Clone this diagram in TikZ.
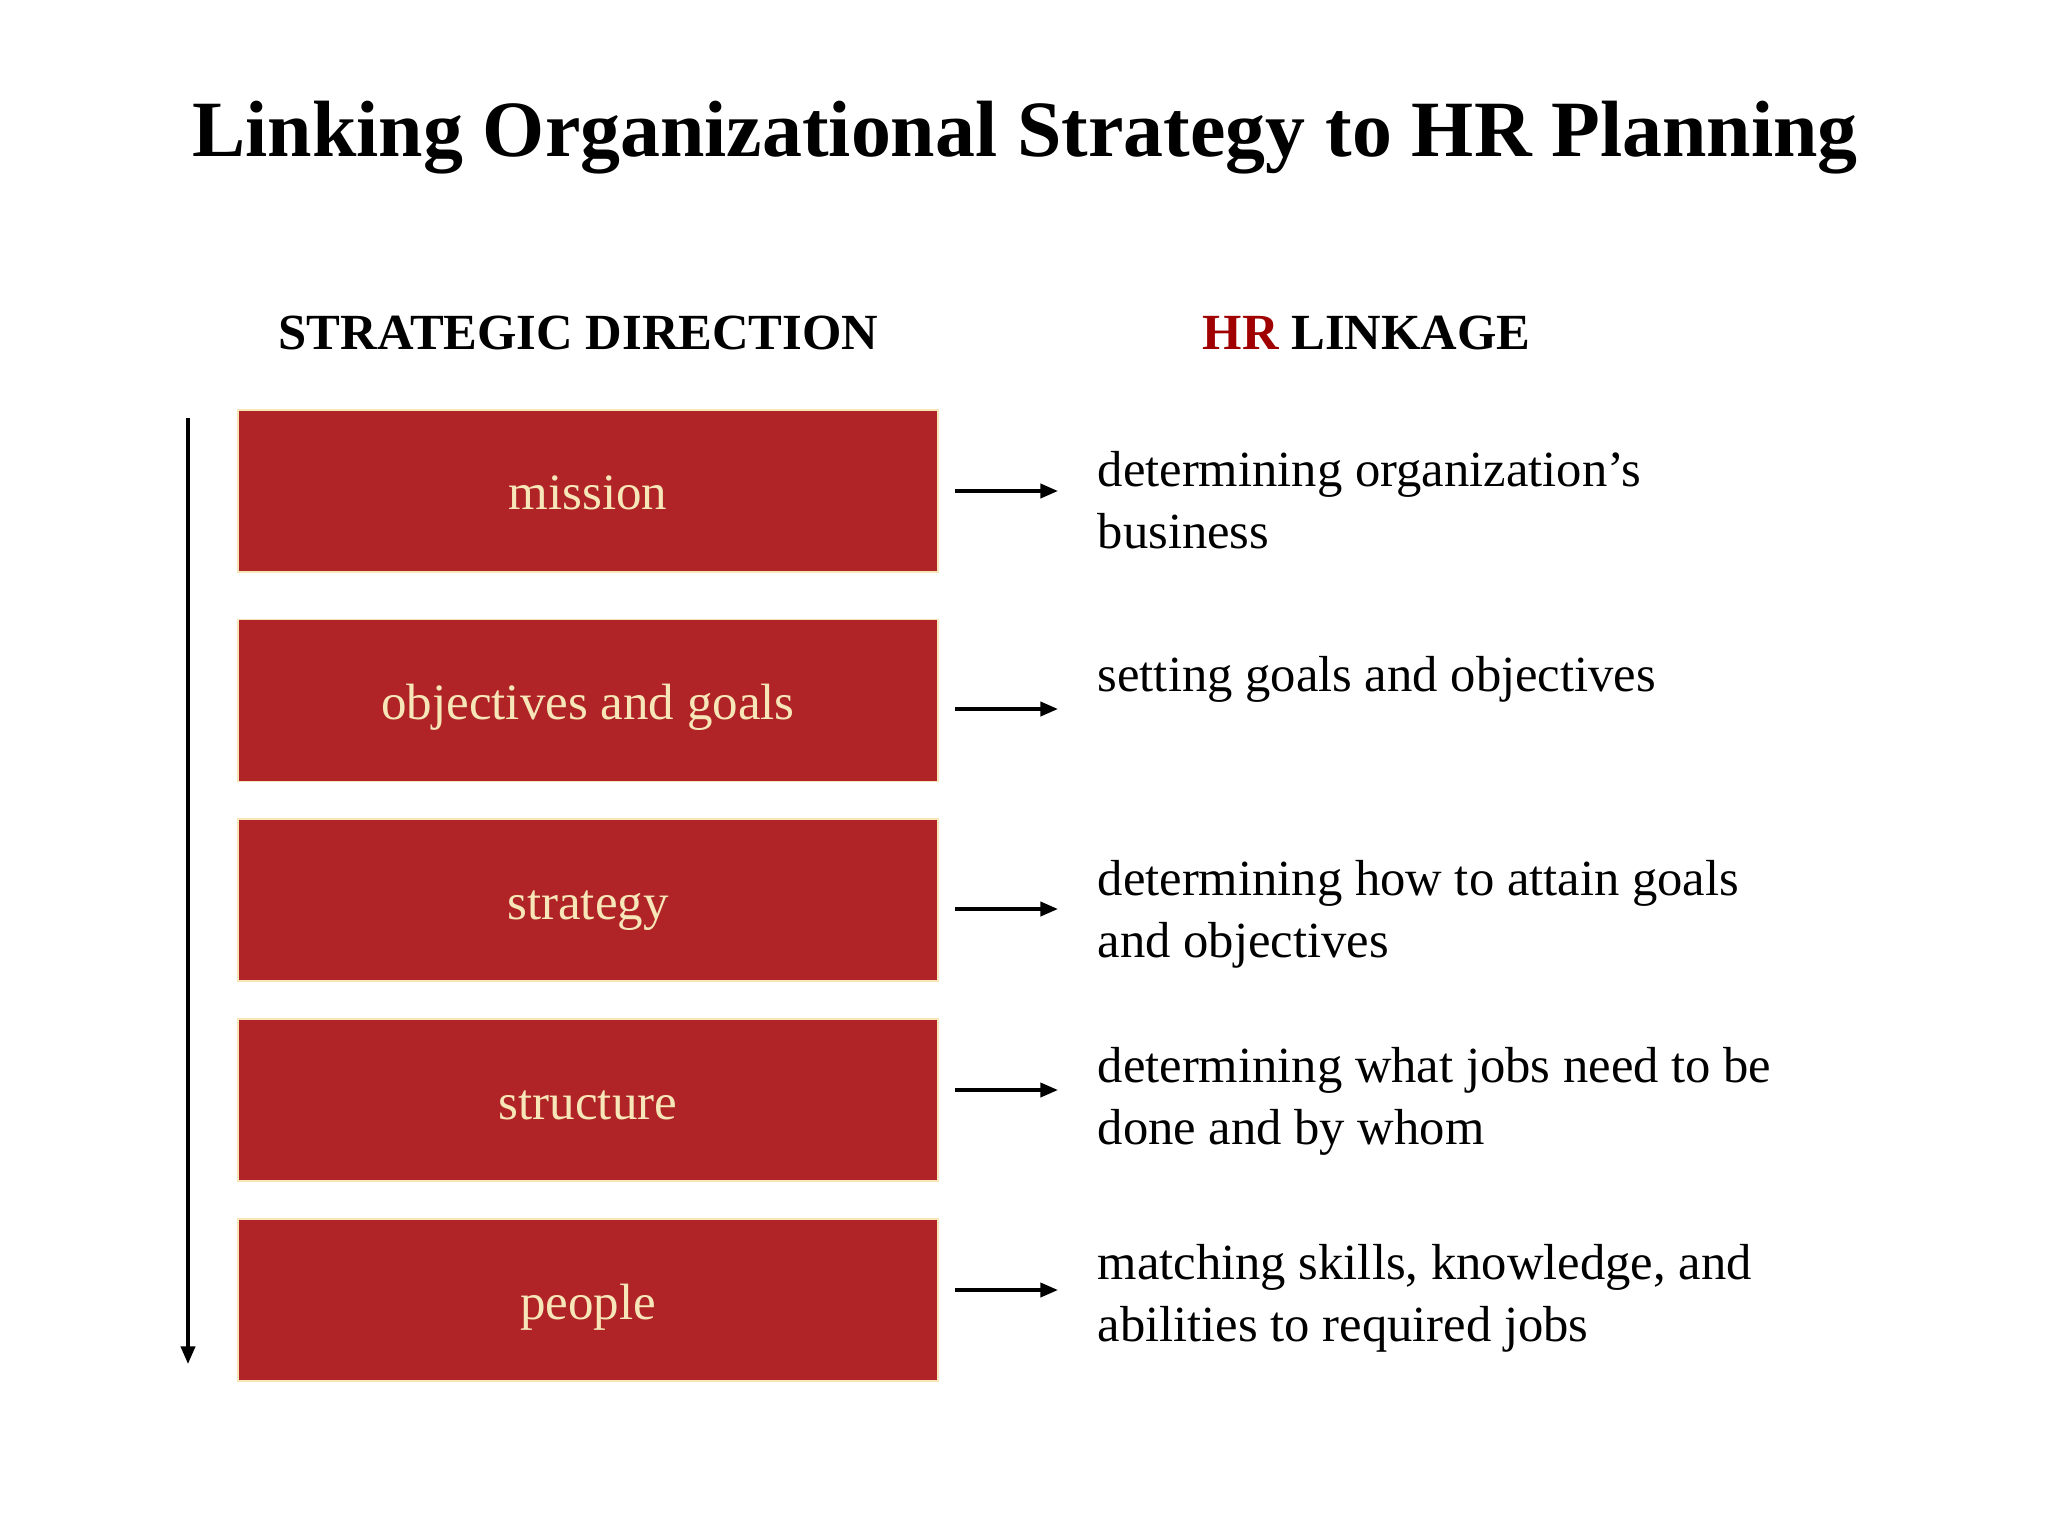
\documentclass[tikz,border=0pt]{standalone}
\usepackage{fontspec}
\setmainfont{Liberation Serif}
\usetikzlibrary{arrows.meta}
\definecolor{boxred}{HTML}{B02428}
\definecolor{cream}{HTML}{F6E6B8}
\definecolor{hrred}{HTML}{A00000}
\tikzset{
  stepbox/.style={draw=cream, line width=0.5pt, fill=boxred, text=cream,
    minimum width=7cm, minimum height=1.62cm, inner sep=0pt,
    text height=10.8pt, text depth=0pt,
    font=\fontsize{14.5pt}{17.4pt}\selectfont},
  linktext/.style={anchor=base west, inner sep=0pt, align=left,
    font=\fontsize{14.4pt}{17.36pt}\selectfont},
  heading/.style={anchor=base west, inner sep=0pt,
    font=\fontsize{14.4pt}{17.3pt}\selectfont\bfseries},
  arr/.style={-{Triangle[length=5pt,width=4pt]}, line width=1pt}
}
\begin{document}
\begin{tikzpicture}[x=0.01cm,y=-0.01cm]
\useasboundingbox[fill=white] (0,0) rectangle (2048,1536);
\node[anchor=base, inner sep=0pt, font=\fontsize{22.7pt}{27pt}\selectfont\bfseries] (title) at (1025,156) {Linking Organizational Strategy to HR Planning};
\node[heading] (h1) at (278,349) {STRATEGIC DIRECTION};
\node[heading] (h2) at (1202,349) {\textcolor{hrred}{HR} LINKAGE};

\node[stepbox] (b1) at (588,491) {mission};
\node[stepbox] (b2) at (588,700.5) {objectives and goals};
\node[stepbox] (b3) at (588,900) {strategy};
\node[stepbox] (b4) at (588,1100) {structure};
\node[stepbox] (b5) at (588,1300) {people};

% base anchor of a two-line node is the baseline of its last line
\node[linktext] (t1) at (1097,548) {determining organization’s\\business};
\node[linktext] (t2) at (1097,691) {setting goals and objectives};
\node[linktext] (t3) at (1097,957) {determining how to attain goals\\and objectives};
\node[linktext] (t4) at (1097,1144) {determining what jobs need to be\\done and by whom};
\node[linktext] (t5) at (1097,1341) {matching skills, knowledge, and\\abilities to required jobs};

\coordinate (vs) at (188,418);
\coordinate (ve) at (188,1364);
\draw[arr] (vs) -- (ve);

\foreach \i/\y in {1/491,2/709,3/909,4/1090,5/1290}{
  \coordinate (a\i s) at (955,\y);
  \coordinate (a\i e) at (1058,\y);
  \draw[arr] (a\i s) -- (a\i e);
}
\end{tikzpicture}
\end{document}
